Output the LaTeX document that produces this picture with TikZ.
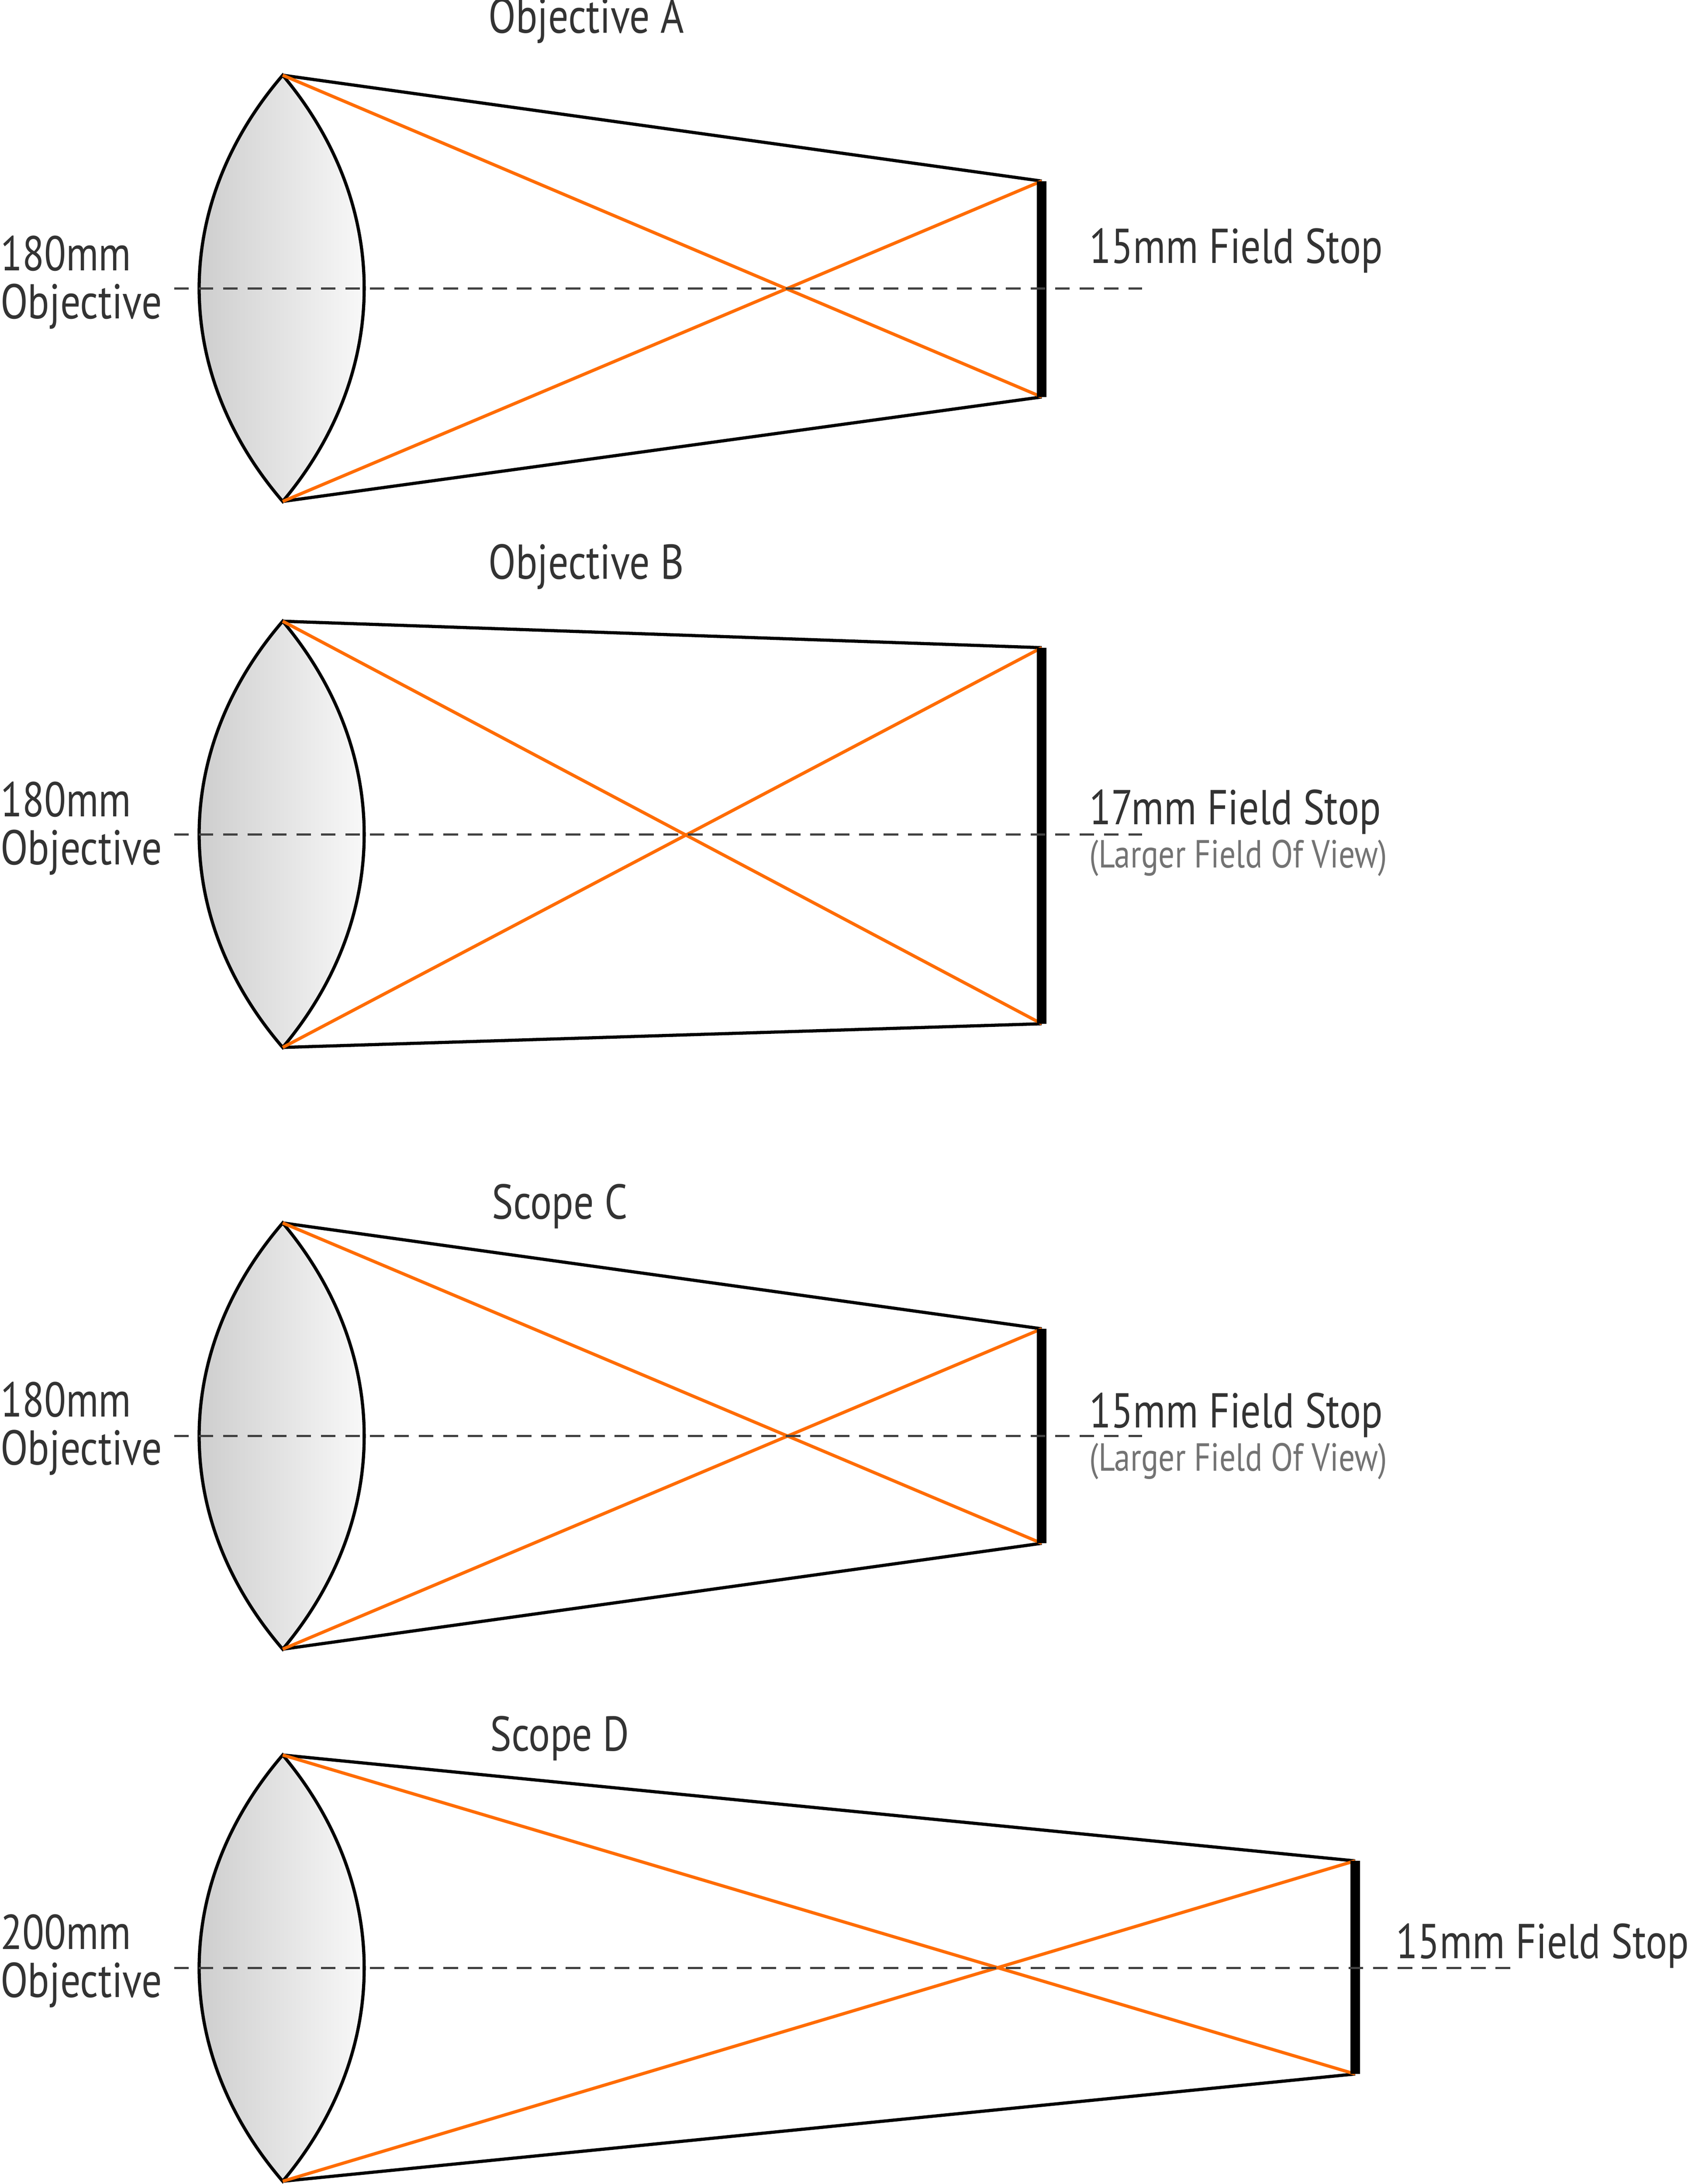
\documentclass[tikz,border=0pt]{standalone}
\usepackage{fontspec}
\setmainfont[FakeStretch=0.82]{PT Sans}
\begin{document}
\begin{tikzpicture}[x=0.02cm,y=-0.02cm,
  lbl/.style={font=\fontsize{20}{22}\selectfont,text=black!80,inner sep=0pt},
  sub/.style={font=\fontsize{16}{18}\selectfont,text=black!55,inner sep=0pt,anchor=west},
  ray/.style={draw=orange!85!red,line width=1.3pt},
  edge/.style={draw=black,line width=1.3pt},
  stopl/.style={draw=black,line width=4pt},
  axis/.style={draw=black!75,dashed,line width=0.9pt,dash pattern=on 6pt off 4pt}]
\useasboundingbox (0,0) rectangle (1217,1568);
\newcommand{\myunit}[6]{% #1 top y, #2 center y, #3 bottom y, #4 stop x, #5 stop top, #6 stop bottom
  \coordinate (lt) at (203,#1); \coordinate (lb) at (203,#3);
  \coordinate (st) at (#4,#5); \coordinate (sb) at (#4,#6);
  \shade[left color=black!22,right color=white,draw=black,line width=1.3pt]
    (lt) .. controls (123,#2-60) and (123,#2+60) .. (lb)
    .. controls (281,#2+60) and (281,#2-60) .. (lt) -- cycle;
  \draw[edge] (lt) -- (st); \draw[edge] (lb) -- (sb);
  \draw[ray] (lt) -- (sb); \draw[ray] (lb) -- (st);
  \draw[stopl] (st) -- (sb);
}
\myunit{54}{207}{360}{748}{130}{285}
\coordinate (a1) at (125,207); \coordinate (a2) at (820,207); \draw[axis] (a1)--(a2);
\myunit{446}{599}{752}{748}{465}{735}
\coordinate (b1) at (125,599); \coordinate (b2) at (820,599); \draw[axis] (b1)--(b2);
\myunit{878}{1031}{1184}{748}{954}{1108}
\coordinate (c1) at (125,1031); \coordinate (c2) at (820,1031); \draw[axis] (c1)--(c2);
\myunit{1260}{1413}{1566}{973}{1336}{1489}
\coordinate (d1) at (125,1413); \coordinate (d2) at (1085,1413); \draw[axis] (d1)--(d2);

\node[lbl] (ta) at (421,15) {Objective A};
\node[lbl,anchor=west] (a180) at (0,182) {180mm};
\node[lbl,anchor=west] (aob) at (0,220) {Objective};
\node[lbl,anchor=west] (afs) at (782,180) {15mm Field Stop};

\node[lbl] (tb) at (421,407) {Objective B};
\node[lbl,anchor=west] (b180) at (0,574) {180mm};
\node[lbl,anchor=west] (bob) at (0,612) {Objective};
\node[lbl,anchor=west] (bfs) at (782,583) {17mm Field Stop};
\node[sub] (bsub) at (782,616) {(Larger Field Of View)};

\node[lbl] (tc) at (402,866) {Scope C};
\node[lbl,anchor=west] (c180) at (0,1005) {180mm};
\node[lbl,anchor=west] (cob) at (0,1043) {Objective};
\node[lbl,anchor=west] (cfs) at (782,1016) {15mm Field Stop};
\node[sub] (csub) at (782,1049) {(Larger Field Of View)};

\node[lbl] (td) at (402,1248) {Scope D};
\node[lbl,anchor=west] (d200) at (0,1387) {200mm};
\node[lbl,anchor=west] (dob) at (0,1425) {Objective};
\node[lbl,anchor=west] (dfs) at (1002,1397) {15mm Field Stop};
\end{tikzpicture}
\end{document}
